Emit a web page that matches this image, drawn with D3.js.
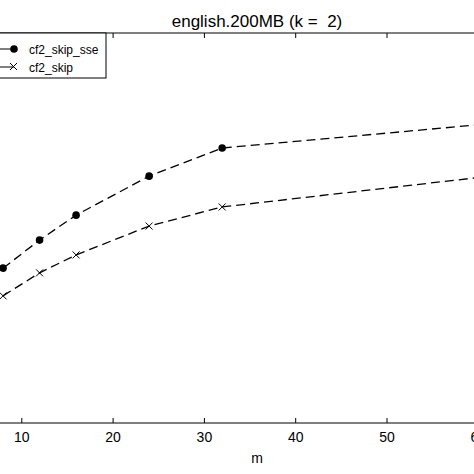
<!DOCTYPE html>
<html><head><meta charset="utf-8">
<script src="https://cdn.jsdelivr.net/npm/d3@7"></script>
<style>body{margin:0;background:#fff;overflow:hidden}</style>
</head><body>
<div id="chart"></div>
<script>
var mValues = [8, 12, 16, 24, 32, 64];
var sse = [39.7, 46.9, 53.3, 63.3, 70.5, 77.3];
var skip = [32.6, 38.5, 43.1, 50.5, 55.4, 64.0];
var xTicks = [10, 20, 30, 40, 50, 60];

var W = 474, H = 474, plotTop = 33, plotBottom = 423;

var svg = d3.select("#chart").append("svg")
  .attr("width", W).attr("height", H)
  .style("font-family", "'Liberation Sans', Arial, sans-serif");

// axes extend past the window on both sides
var x = d3.scaleLinear().domain([0, 70]).range([-70, 569.1]);
var y = d3.scaleLinear().domain([0, 100]).range([plotBottom, plotTop]);

svg.append("g").attr("transform", "translate(0," + plotBottom + ")")
  .call(d3.axisBottom(x).tickValues(xTicks).tickSizeInner(-5).tickSizeOuter(0).tickPadding(9))
  .call(function(g) {
    g.select(".domain").remove();
    g.selectAll("text").attr("font-size", 14).attr("fill", "#000");
    g.selectAll("line").attr("stroke", "#000");
  });
svg.append("g").attr("transform", "translate(0," + plotTop + ")")
  .call(d3.axisTop(x).tickValues(xTicks).tickSizeInner(-5).tickSizeOuter(0).tickFormat(""))
  .call(function(g) { g.select(".domain").remove(); g.selectAll("line").attr("stroke", "#000"); });

svg.append("line").attr("x1", 0).attr("x2", W).attr("y1", plotBottom).attr("y2", plotBottom).attr("stroke", "#000");
svg.append("line").attr("x1", 0).attr("x2", W).attr("y1", plotTop).attr("y2", plotTop).attr("stroke", "#000");

var line = d3.line().x(function(d, i) { return x(mValues[i]); }).y(function(d) { return y(d); });

[sse, skip].forEach(function(s) {
  svg.append("path").attr("d", line(s)).attr("fill", "none")
    .attr("stroke", "#000").attr("stroke-width", 1.3).attr("stroke-dasharray", "9,5");
});

svg.selectAll(".dot").data(sse).enter().append("circle")
  .attr("cx", function(d, i) { return x(mValues[i]); }).attr("cy", function(d) { return y(d); })
  .attr("r", 3.8).attr("fill", "#000");

svg.selectAll(".cross").data(skip).enter().append("path")
  .attr("d", function(d, i) {
    var cx = x(mValues[i]), cy = y(d), s = 3.5;
    return "M" + (cx - s) + "," + (cy - s) + "L" + (cx + s) + "," + (cy + s) +
      "M" + (cx - s) + "," + (cy + s) + "L" + (cx + s) + "," + (cy - s);
  })
  .attr("stroke", "#000").attr("stroke-width", 1);

svg.append("text").attr("x", 257).attr("y", 27).attr("text-anchor", "middle")
  .attr("font-size", 17).attr("xml:space", "preserve").style("white-space", "pre")
  .text("english.200MB (k =  2)");
svg.append("text").attr("x", 257).attr("y", 463).attr("text-anchor", "middle")
  .attr("font-size", 14).text("m");

// legend
var lg = svg.append("g");
lg.append("rect").attr("x", -5).attr("y", plotTop).attr("width", 111).attr("height", 45)
  .attr("fill", "#fff").attr("stroke", "#000").attr("stroke-width", 1);
lg.append("line").attr("x1", -5).attr("x2", 14).attr("y1", 49).attr("y2", 49).attr("stroke", "#000");
lg.append("circle").attr("cx", 14).attr("cy", 49).attr("r", 3.8).attr("fill", "#000");
lg.append("line").attr("x1", -5).attr("x2", 14).attr("y1", 67).attr("y2", 67).attr("stroke", "#000");
lg.append("path").attr("d", "M10,63L17,70M10,70L17,63").attr("stroke", "#000");
lg.append("text").attr("x", 29).attr("y", 54).attr("font-size", 12).text("cf2_skip_sse");
lg.append("text").attr("x", 29).attr("y", 72).attr("font-size", 12).text("cf2_skip");
</script>
</body></html>
